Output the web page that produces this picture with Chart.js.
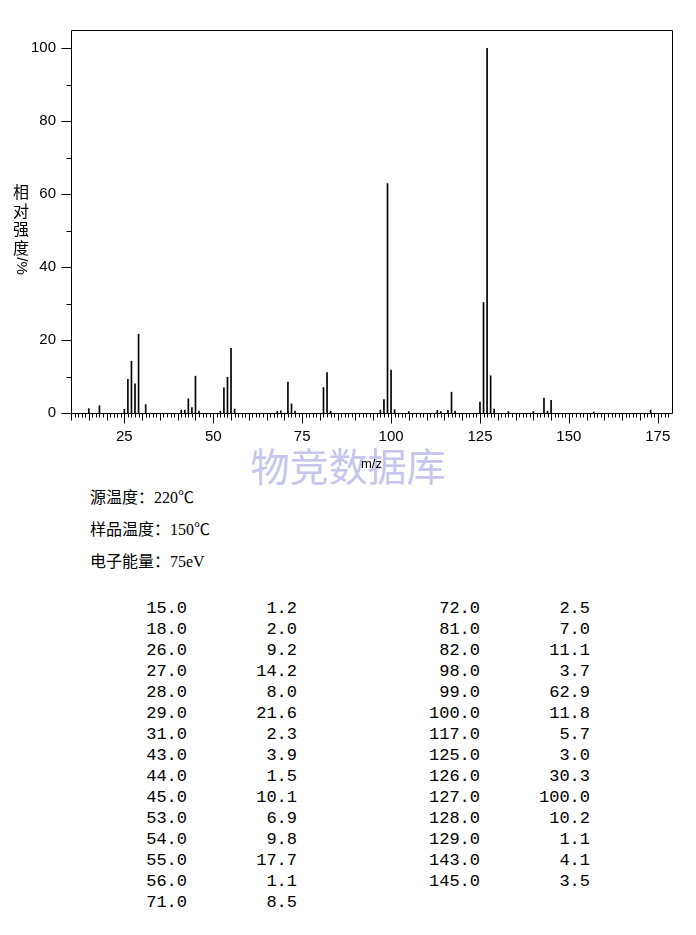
<!DOCTYPE html>
<html>
<head>
<meta charset="utf-8">
<script src="https://cdn.jsdelivr.net/npm/chart.js@4.4.0/dist/chart.umd.min.js"></script>
<style>
	html, body { margin: 0; padding: 0; background: #fff; }
	body { width: 696px; height: 935px; position: relative; overflow: hidden; }
	#mark {
		position: absolute; left: 0; top: 441px; width: 696px; text-align: center;
		font: 39px/46px "Noto Sans CJK SC", sans-serif; color: #c6c6ec; z-index: 0;
	}
	#wrap { position: absolute; left: 0; top: 0; width: 696px; height: 480px; z-index: 1; }
	#info {
		position: absolute; left: 90px; top: 482px;
		font: 16px/32px "Liberation Serif", "Noto Sans CJK SC", serif; color: #000;
	}
	#peaks {
		position: absolute; left: 0; top: 598px;
		font: 17px/21px "Liberation Mono", "DejaVu Sans Mono", monospace; color: #000;
	}
	#peaks div { height: 21px; white-space: pre; }
	#peaks span { display: inline-block; text-align: right; }
</style>
</head>
<body>
<div id="mark">物竞数据库</div>
<div id="wrap"><canvas id="ms" width="696" height="480"></canvas></div>
<div id="info"></div>
<div id="peaks"></div>
<script>
(function () {
	'use strict';

	// ─── Listed peaks (m/z, relative intensity %) ───
	var mzValues = [15, 18, 26, 27, 28, 29, 31, 43, 44, 45, 53, 54, 55, 56, 71,
		72, 81, 82, 98, 99, 100, 117, 125, 126, 127, 128, 129, 143, 145];
	var intensities = [1.2, 2.0, 9.2, 14.2, 8.0, 21.6, 2.3, 3.9, 1.5, 10.1, 6.9, 9.8, 17.7, 1.1, 8.5,
		2.5, 7.0, 11.1, 3.7, 62.9, 11.8, 5.7, 3.0, 30.3, 100.0, 10.2, 1.1, 4.1, 3.5];

	// ─── Small unlisted peaks seen on the plot ───
	var minorMz = [25, 41, 42, 46, 52, 68, 69, 73, 83, 97, 101, 105, 113, 114, 116, 118, 133, 140, 144, 157, 173];
	var minorIntensity = [1.0, 0.8, 0.8, 0.5, 0.5, 0.5, 0.6, 0.5, 0.5, 0.8, 0.9, 0.4, 0.7, 0.4, 0.7, 0.5, 0.4, 0.4, 0.5, 0.3, 0.8];

	var xTickValues = [25, 50, 75, 100, 125, 150, 175];
	var yTickValues = [0, 20, 40, 60, 80, 100];

	var infoLines = ['源温度：220℃', '样品温度：150℃', '电子能量：75eV'];

	// ─── Build bar points ───
	var points = [];
	mzValues.forEach(function (m, i) { points.push({ x: m, y: intensities[i] }); });
	minorMz.forEach(function (m, i) { points.push({ x: m, y: minorIntensity[i] }); });
	points.sort(function (a, b) { return a.x - b.x; });

	var tickFont = { family: "'Liberation Sans', Arial, sans-serif", size: 15 };

	// frame + tick marks of varying length
	var frameTicks = {
		id: 'frameTicks',
		afterDatasetsDraw: function (chart) {
			var ctx = chart.ctx;
			var a = chart.chartArea;
			var xs = chart.scales.x;
			var ys = chart.scales.y;
			var L = Math.round(a.left) + 0.5;
			var R = Math.round(a.right) + 0.5;
			var T = Math.round(a.top) + 0.5;
			var B = Math.round(a.bottom) + 0.5;

			ctx.save();
			ctx.strokeStyle = '#000';
			ctx.lineWidth = 1;
			ctx.beginPath();
			ctx.moveTo(L, B); ctx.lineTo(L, T); ctx.lineTo(R, T); ctx.lineTo(R, B); ctx.lineTo(L, B);

			for (var m = Math.ceil(xs.min); m <= Math.floor(xs.max); m++) {
				var px = Math.round(xs.getPixelForValue(m)) + 0.5;
				if (px > R - 1) continue;
				var len = m % 25 === 0 ? 10 : (m % 5 === 0 ? 7 : 4);
				ctx.moveTo(px, B); ctx.lineTo(px, B + len);
			}
			for (var v = 0; v <= 100; v += 10) {
				var py = Math.round(ys.getPixelForValue(v)) + 0.5;
				var l2 = v % 20 === 0 ? 10 : 5;
				ctx.moveTo(L, py); ctx.lineTo(L - l2, py);
			}
			ctx.stroke();

			// vertical y title: upright CJK chars, then rotated "/%"
			ctx.fillStyle = '#000';
			ctx.font = "16px 'Noto Sans CJK SC', sans-serif";
			ctx.textAlign = 'center';
			ctx.textBaseline = 'middle';
			var chars = ['相', '对', '强', '度'];
			chars.forEach(function (c, i) { ctx.fillText(c, 21, 192 + i * 18.5); });
			ctx.translate(21, 266);
			ctx.rotate(Math.PI / 2);
			ctx.font = "15px 'Liberation Sans', sans-serif";
			ctx.fillText('/%', 0, 0);
			ctx.restore();
		}
	};

	new Chart(document.getElementById('ms').getContext('2d'), {
		type: 'bar',
		data: {
			datasets: [{
				data: points,
				backgroundColor: '#000',
				borderWidth: 0,
				barThickness: 1,
			}]
		},
		options: {
			responsive: false,
			animation: false,
			layout: { padding: { left: 0, top: 30, right: 24, bottom: 0 } },
			plugins: {
				legend: { display: false },
				tooltip: { enabled: false }
			},
			scales: {
				x: {
					type: 'linear',
					min: 10,
					max: 179,
					offset: false,
					grid: { display: false, drawTicks: false },
					border: { display: false },
					ticks: { color: '#000', font: tickFont, padding: 15, maxRotation: 0, autoSkip: false },
					afterBuildTicks: function (s) {
						s.ticks = xTickValues.map(function (v) { return { value: v }; });
					},
					afterFit: function (s) { s.height = 67; },
					title: {
						display: true,
						text: 'm/z',
						color: '#000',
						font: { family: "'Liberation Sans', sans-serif", size: 13 },
						padding: { top: 0, bottom: 8 }
					}
				},
				y: {
					min: 0,
					max: 105,
					grid: { display: false, drawTicks: false },
					border: { display: false },
					ticks: { color: '#000', font: tickFont, padding: 15 },
					afterBuildTicks: function (s) {
						s.ticks = yTickValues.map(function (v) { return { value: v }; });
					},
					afterFit: function (s) { s.width = 71; }
				}
			}
		},
		plugins: [frameTicks]
	});

	// ─── Text below the chart ───
	var info = document.getElementById('info');
	infoLines.forEach(function (t) {
		var d = document.createElement('div');
		d.textContent = t;
		info.appendChild(d);
	});

	var peaks = document.getElementById('peaks');
	var half = Math.ceil(mzValues.length / 2);
	var widths = [187, 110, 183, 110];
	for (var r = 0; r < half; r++) {
		var row = document.createElement('div');
		var cells = [
			mzValues[r].toFixed(1), intensities[r].toFixed(1),
			r + half < mzValues.length ? mzValues[r + half].toFixed(1) : '',
			r + half < mzValues.length ? intensities[r + half].toFixed(1) : ''
		];
		cells.forEach(function (c, i) {
			var s = document.createElement('span');
			s.style.width = widths[i] + 'px';
			s.textContent = c;
			row.appendChild(s);
		});
		peaks.appendChild(row);
	}
})();
</script>
</body>
</html>
